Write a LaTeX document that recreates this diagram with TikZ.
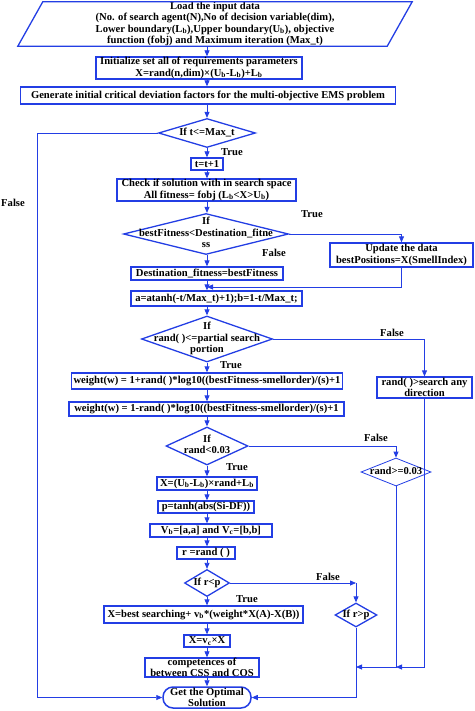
\documentclass[tikz,border=0pt]{standalone}
\usepackage{fontspec}
\setmainfont{Liberation Serif}
\usetikzlibrary{shapes,arrows,arrows.meta,calc,positioning}

\definecolor{fcblue}{RGB}{35,62,228}
\newcommand{\dtxt}[1]{\smash{\makebox[0pt]{\raisebox{-2.5pt}{\begin{tabular}{@{}c@{}}#1\end{tabular}}}}}
\newcommand{\sub}[1]{\textsubscript{#1}}

\begin{document}
\begin{tikzpicture}[
    x=1pt, y=-1pt,
    >={Triangle[length=6pt,width=5pt]},
    font=\fontsize{10.6}{11.5}\selectfont\bfseries,
    box/.style   = {draw=fcblue, line width=1.3pt, inner xsep=2pt, inner ysep=0pt,
                    align=center},
    cond/.style  = {diamond, draw=fcblue, line width=1.3pt, inner sep=0pt},
    term/.style  = {draw=fcblue, line width=1.5pt, rounded corners=10pt,
                    inner sep=0pt, align=center},
    trans/.style = {draw=fcblue, line width=0.8pt, ->},
    lbl/.style   = {inner sep=0pt}
  ]
  \useasboundingbox (0,0) rectangle (474,711);

  %–––– grid coordinates ––––
  \coordinate (col) at (207,0);
  \coordinate (lft) at (37,0);
  \coordinate (jA)  at (0,287);
  \coordinate (jB)  at (0,667);

  % input data
  \node[inner sep=0pt, minimum width=369pt, minimum height=44pt, align=center]
      (input) at (215,24) {Load the input data\\
      (No. of search agent(N),No of decision variable(dim),\\
      Lower boundary(L\sub{b}),Upper boundary(U\sub{b}), objective\\
      function (fobj) and Maximum iteration (Max\_t)};
  \draw[draw=fcblue, line width=1.3pt]
      ($(input.north west)+(12.5,0)$) -- ($(input.north east)+(12.5,0)$)
      -- ($(input.south east)+(-12.5,0)$) -- ($(input.south west)+(-12.5,0)$) -- cycle;

  % initialisation
  \node[box, minimum width=206pt, minimum height=22pt] (init) at (199,68)
      {Initialize set all of requirements parameters\\
       X=rand(n,dim)×(U\sub{b}-L\sub{b})+L\sub{b}};
  \node[box, minimum width=375pt, minimum height=17pt] (gen) at (208,95.5)
      {Generate initial critical deviation factors for the multi-objective EMS problem};

  % main loop
  \node[cond, minimum width=97pt, minimum height=29pt] (tcond) at (207,133)
      {\dtxt{If t<=Max\_t}};
  \node[box, minimum width=32pt, minimum height=12pt] (inc) at (207,164) {t=t+1};
  \node[box, minimum width=179pt, minimum height=22pt] (check) at (206.5,190)
      {Check if solution with in search space\\
       All fitness= fobj (L\sub{b}<X>U\sub{b})};
  \node[cond, minimum width=165pt, minimum height=41pt] (bestc) at (206,234)
      {\dtxt{If\\bestFitness<Destination\_fitne\\ss}};
  \node[box, minimum width=143pt, minimum height=24pt] (update) at (401.5,255)
      {Update the data\\bestPositions=X(SmellIndex)};
  \node[box, minimum width=152pt, minimum height=13pt] (dest) at (207,273.5)
      {Destination\_fitness=bestFitness};
  \node[box, minimum width=171pt, minimum height=15pt] (ab) at (216.5,298.5)
      {a=atanh(-t/Max\_t)+1);b=1-t/Max\_t;};

  % search phase
  \node[cond, minimum width=131pt, minimum height=46pt] (randc) at (207,339)
      {\dtxt{If\\rand( )<=partial search\\portion}};
  \node[box, minimum width=95pt, minimum height=21pt] (search) at (424.5,387.5)
      {rand( )>search any\\direction};
  \node[box, minimum width=270pt, minimum height=16pt] (w1) at (207,381)
      {weight(w) = 1+rand( )*log10((bestFitness-smellorder)/(s)+1};
  \node[box, minimum width=275pt, minimum height=14pt] (w2) at (206.5,409)
      {weight(w) = 1-rand( )*log10((bestFitness-smellorder)/(s)+1};
  \node[cond, minimum width=82pt, minimum height=38pt] (r03) at (207,446)
      {\dtxt{If\\rand<0.03}};
  \node[cond, line width=0.8pt, minimum width=70pt, minimum height=28pt] (r03b) at (396,472)
      {\dtxt{rand>=0.03}};

  % update phase
  \node[box, minimum width=100pt, minimum height=13pt] (xub) at (207,483.5)
      {X=(U\sub{b}-L\sub{b})×rand+L\sub{b}};
  \node[box, minimum width=96pt, minimum height=12pt] (ptanh) at (206,507)
      {p=tanh(abs(Si-DF))};
  \node[box, minimum width=122pt, minimum height=13pt] (vbc) at (211,530.5)
      {V\sub{b}=[a,a] and V\sub{c}=[b,b]};
  \node[box, minimum width=58pt, minimum height=12pt] (rr) at (206,553)
      {r =rand ( )};
  \node[cond, minimum width=45pt, minimum height=27pt] (rpc) at (207,583)
      {\dtxt{If r<p}};
  \node[cond, minimum width=42pt, minimum height=24pt] (rpb) at (356,615)
      {\dtxt{If r>p}};
  \node[box, minimum width=199pt, minimum height=17pt] (xbest) at (203.5,614.5)
      {X=best searching+ v\sub{b}*(weight*X(A)-X(B))};
  \node[box, minimum width=46pt, minimum height=12pt] (xvc) at (207,641)
      {X=v\sub{c}×X};
  \node[box, minimum width=114pt, minimum height=19pt] (comp) at (202,667.5)
      {competences of\\between CSS and COS};
  \node[term, minimum width=88pt, minimum height=21pt] (opt) at (207,697.5)
      {Get the Optimal\\Solution};

  %–––– main column ––––
  \foreach \a/\b in {input/init, init/gen, gen/tcond, tcond/inc, inc/check,
                     check/bestc, bestc/dest, dest/ab, ab/randc, randc/w1,
                     w1/w2, w2/r03, r03/xub, xub/ptanh, ptanh/vbc, vbc/rr,
                     rr/rpc, rpc/xbest, xbest/xvc, xvc/comp, comp/opt}
    \draw[trans] (\a.south -| col) -- (\b.north -| col);

  %–––– branches ––––
  \draw[trans] (bestc.east) -| (update.north);
  \draw[trans] (update.south) |- (col |- jA);
  \draw[trans] (randc.east) -| (search.north);
  \draw[trans] (r03.east) -| (r03b.north);
  \draw[trans] (rpc.east) -- (rpc.east -| rpb);
  \draw[trans] (rpc.east -| rpb) -- (rpb.north);

  %–––– returns to the end ––––
  \draw[trans] (tcond.west) -| (lft |- opt.west) -- (opt.west);
  \draw[trans] (search.south) |- (r03b |- jB);
  \draw[trans] (r03b.south) |- (rpb |- jB);
  \draw[trans] (rpb.south) |- (opt.east);

  % true / false labels
  \node[lbl] at (232,152) {True};
  \node[lbl] at (312,214) {True};
  \node[lbl] at (274,253) {False};
  \node[lbl] at (13,203)  {False};
  \node[lbl] at (392,333) {False};
  \node[lbl] at (231,365) {True};
  \node[lbl] at (376,438) {False};
  \node[lbl] at (237,467) {True};
  \node[lbl] at (328,577) {False};
  \node[lbl] at (247,599) {True};

\end{tikzpicture}
\end{document}
